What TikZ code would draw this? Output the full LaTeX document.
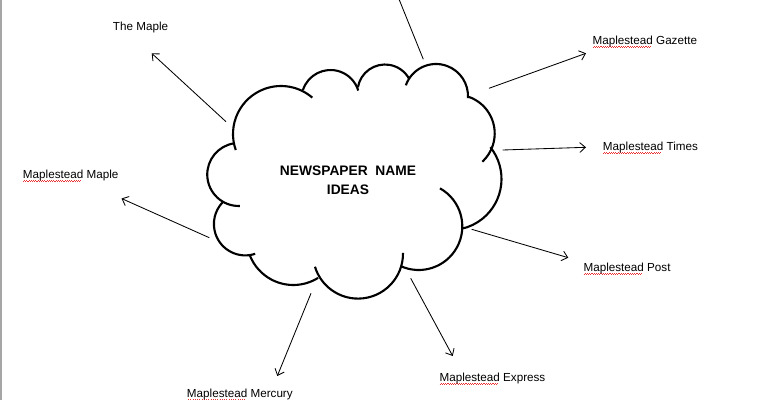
\documentclass[tikz,border=0pt]{standalone}
\usepackage{fontspec}
\setmainfont{Liberation Sans}
\usetikzlibrary{arrows.meta}
\definecolor{spellred}{RGB}{235,50,50}
\newsavebox{\spellbox}
% red squiggle under a word
\newcommand{\spellchk}[1]{\sbox{\spellbox}{#1}%
  \rlap{\raisebox{-2.2pt}{\color{spellred}\hbox to \wd\spellbox{\leaders\hbox{\rule{0.8pt}{0.4pt}\raisebox{0.55pt}{\rule{0.8pt}{0.4pt}}}\hfil}}}%
  \usebox{\spellbox}}
\tikzset{
  lobe/.style={line width=1.5pt},
  idea/.style={font=\fontsize{8.3}{10}\selectfont, inner sep=0pt, anchor=base west},
  title/.style={font=\bfseries\fontsize{9.8}{13.7}\selectfont, align=center},
  spoke/.style={line width=0.6pt, -{Straight Barb[length=4pt,width=7pt]}},
}
\begin{document}
\begin{tikzpicture}[x=0.025cm, y=-0.025cm]
	\useasboundingbox (0,0) rectangle (761,400);
	\clip (0,0) rectangle (761,400);
	\fill[gray!70] (0,0) rectangle (1.7,400);				% page edge
	
	% cloud, one arc per lobe (clockwise from the left)
	\draw[lobe] (238.75,174.5) ++(88:31.5) arc (88:261:31.5);
	\draw[lobe] (281,134) ++(160.5:48) arc (160.5:310.7:48);
	\draw[lobe] (330.5,99) ++(198:29) arc (198:343:29);
	\draw[lobe] (385,92) ++(190:27.5) arc (190:331:27.5);
	\draw[lobe] (436,96) ++(199.5:32) arc (199.5:364:32);
	\draw[lobe] (456,133.4) ++(288.5:38.7) arc (288.5:407:38.7);
	\draw[lobe] (450.5,179) ++(321.4:51) arc (321.4:437.2:51);
	\draw[lobe] (418.7,226.4) ++(299.2:43.6) arc (299.2:474.7:43.6);
	\draw[lobe] (358,253.6) ++(-1:45) arc (-1:163:45);
	\draw[lobe] (293.3,238.3) ++(58:46.7) arc (58:158:46.7);
	\draw[lobe] (245.3,224) ++(71.7:31.4) arc (71.7:224:31.4);
	
	\node[title] (title) at (348,180.5) {NEWSPAPER~~NAME\\IDEAS};
	
	% names
	\node[idea] (maple) at (112.7,30.7) {The Maple};
	\node[idea] (mmaple) at (22.7,178.3) {\spellchk{Maplestead} Maple};
	\node[idea] (mercury) at (186.7,397.3) {\spellchk{Maplestead} Mercury};
	\node[idea] (express) at (439.3,381) {\spellchk{Maplestead} Express};
	\node[idea] (post) at (583.3,271) {\spellchk{Maplestead} Post};
	\node[idea] (times) at (602.7,150.7) {\spellchk{Maplestead} Times};
	\node[idea] (gazette) at (592.3,44.3) {\spellchk{Maplestead} Gazette};
	
	% arrow ends
	\coordinate (maple-t) at (226,121.7);    \coordinate (maple-h) at (151.7,53.3);
	\coordinate (mmaple-t) at (209.3,237.7); \coordinate (mmaple-h) at (121.5,198.5);
	\coordinate (mercury-t) at (311,293.3);  \coordinate (mercury-h) at (277.3,376);
	\coordinate (express-t) at (410.7,278.3); \coordinate (express-h) at (452.7,356);
	\coordinate (post-t) at (471.7,229.3);   \coordinate (post-h) at (568.3,257.7);
	\coordinate (times-t) at (502.7,150);    \coordinate (times-h) at (586,147.3);
	\coordinate (gazette-t) at (489,88.3);   \coordinate (gazette-h) at (586,53.3);
	\coordinate (top-t) at (423.3,59.3);     \coordinate (top-h) at (395.3,-10);
	
	\draw[spoke] (maple-t) -- (maple-h);
	\draw[spoke] (mmaple-t) -- (mmaple-h);
	\draw[spoke] (mercury-t) -- (mercury-h);
	\draw[spoke] (express-t) -- (express-h);
	\draw[spoke] (post-t) -- (post-h);
	\draw[spoke] (times-t) -- (times-h);
	\draw[spoke] (gazette-t) -- (gazette-h);
	\draw[spoke] (top-t) -- (top-h);			% runs off the top
\end{tikzpicture}
\end{document}
